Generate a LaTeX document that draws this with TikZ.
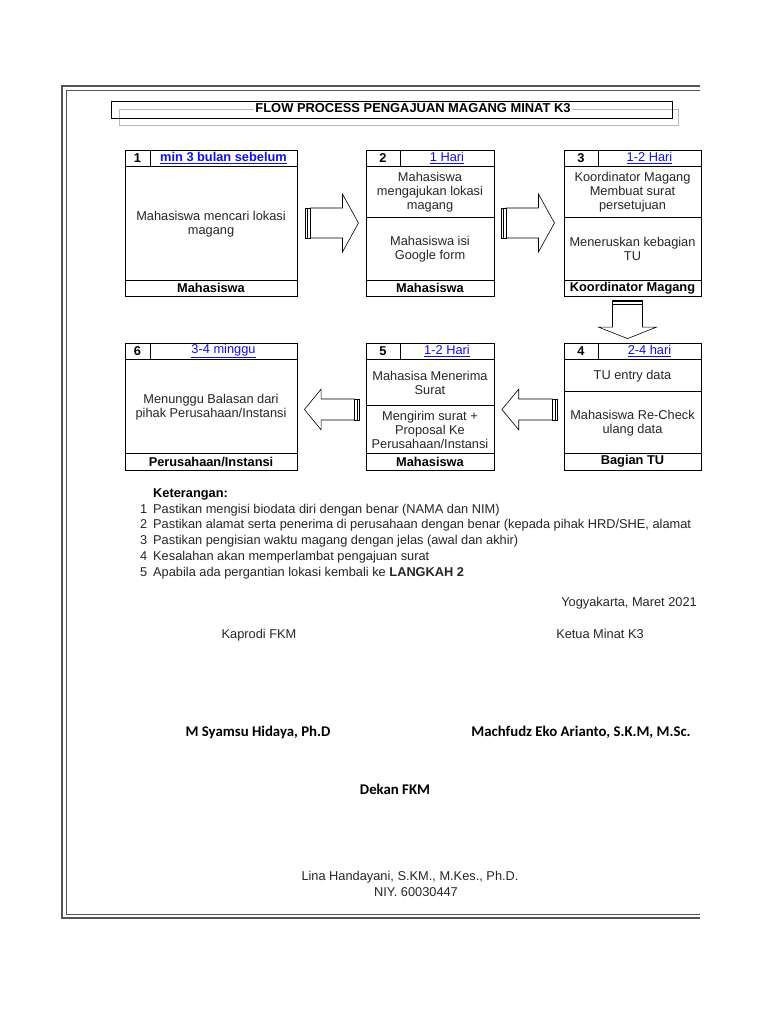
\documentclass[tikz,border=0pt]{standalone}
\usepackage{fontspec}
\setmainfont{Liberation Sans}
\newfontfamily\calibri{Carlito}
\usepackage{xcolor}
\definecolor{linkblue}{RGB}{15,15,230}
\definecolor{framegray}{RGB}{85,85,85}

\begin{document}
\begin{tikzpicture}[x=1pt,y=-1pt,
    txt/.style={align=center,font=\fontsize{12.8}{14}\selectfont,text=black!85,inner sep=0pt},
    num/.style={font=\fontsize{12.8}{14}\selectfont\bfseries,inner sep=0pt},
    lnk/.style={font=\fontsize{12.8}{14}\selectfont,text=linkblue,inner sep=0pt},
    role/.style={font=\fontsize{12.8}{14}\selectfont\bfseries,inner sep=0pt},
    note/.style={anchor=base west,font=\fontsize{12.8}{14}\selectfont,text=black!85,inner sep=0pt},
    sign/.style={font=\fontsize{12.8}{14}\selectfont,text=black!85,inner sep=0pt},
    signame/.style={font=\fontsize{14.8}{16}\selectfont\calibri\bfseries,inner sep=0pt},
    cell/.style={draw,line width=0.9pt,inner sep=0pt},
    fatarrow/.pic={
      \draw[line width=0.6pt,fill=white] (5,-15) -- (37,-15) -- (37,-29) -- (53,0) -- (37,29) -- (37,15) -- (5,15) -- cycle;
      \draw[line width=0.7pt,fill=white] (0,-15) rectangle (5,15);
      \draw[line width=0.9pt] (1.6,-15) -- (1.6,15);
    }]
  \useasboundingbox[fill=white] (0,0) rectangle (768,1024);

  % frame
  \draw[framegray,line width=1.6pt] (700,86) -- (62,86) -- (62,918) -- (700,918);
  \draw[framegray,line width=0.9pt] (700,90) -- (66,90) -- (66,914) -- (700,914);

  % title
  \draw[gray!55,line width=1pt] (119,110) rectangle (678,126);
  \node[fill=white,inner sep=1pt,anchor=base,font=\fontsize{12.9}{14}\selectfont\bfseries] (title) at (413,113) {FLOW PROCESS PENGAJUAN MAGANG MINAT K3};
  \draw[line width=1pt] (111,102) rectangle (672,119);

  % boxes
  \node[cell,minimum width=172pt,minimum height=146pt] (box1) at (211,223) {};
  \node[cell,minimum width=128pt,minimum height=146pt] (box2) at (430,223) {};
  \node[cell,minimum width=137pt,minimum height=146pt] (box3) at (632.5,223) {};
  \node[cell,minimum width=172pt,minimum height=127pt] (box6) at (211,406.5) {};
  \node[cell,minimum width=128pt,minimum height=127pt] (box5) at (430,406.5) {};
  \node[cell,minimum width=137pt,minimum height=127pt] (box4) at (632.5,406.5) {};
  \draw[line width=0.9pt] (125,166) -- (297,166) (150,150) -- (150,166) (125,280) -- (297,280);
  \draw[line width=0.9pt] (366,166) -- (494,166) (400,150) -- (400,166) (366,217) -- (494,217) (366,280) -- (494,280);
  \draw[line width=0.9pt] (564,166) -- (701,166) (598,150) -- (598,166) (564,217) -- (701,217) (564,280) -- (701,280);
  \draw[line width=0.9pt] (125,359) -- (297,359) (150,343) -- (150,359) (125,453) -- (297,453);
  \draw[line width=0.9pt] (366,359) -- (494,359) (400,343) -- (400,359) (366,405) -- (494,405) (366,453) -- (494,453);
  \draw[line width=0.9pt] (564,359) -- (701,359) (598,343) -- (598,359) (564,391) -- (701,391) (564,453) -- (701,453);

  % step 1
  \node[num] (n1) at (137.5,158) {1};
  \node[lnk,font=\fontsize{12.8}{14}\selectfont\bfseries] (t1) at (223.5,158) {\underline{min 3 bulan sebelum}};
  \node[txt] (a1) at (211,224) {Mahasiswa mencari lokasi\\magang};
  \node[role] (r1) at (211,288) {Mahasiswa};
  % step 2
  \node[num] (n2) at (383,158) {2};
  \node[lnk] (t2) at (447,158) {\underline{1 Hari}};
  \node[txt] (a2) at (430,192) {Mahasiswa\\mengajukan lokasi\\magang};
  \node[txt] (b2) at (430,249) {Mahasiswa isi\\Google form};
  \node[role] (r2) at (430,288) {Mahasiswa};
  % step 3
  \node[num] (n3) at (581,158) {3};
  \node[lnk] (t3) at (649.5,158) {\underline{1-2 Hari}};
  \node[txt] (a3) at (632.5,192) {Koordinator Magang\\Membuat surat\\persetujuan};
  \node[txt] (b3) at (632.5,249) {Meneruskan kebagian\\TU};
  \node[role] (r3) at (632.5,288) {Koordinator Magang};
  % step 4
  \node[num] (n4) at (581,351) {4};
  \node[lnk] (t4) at (649.5,351) {\underline{2-4 hari}};
  \node[txt] (a4) at (632.5,376) {TU entry data};
  \node[txt] (b4) at (632.5,423) {Mahasiswa Re-Check\\ulang data};
  \node[role] (r4) at (632.5,461.5) {Bagian TU};
  % step 5
  \node[num] (n5) at (383,351) {5};
  \node[lnk] (t5) at (447,351) {\underline{1-2 Hari}};
  \node[txt] (a5) at (430,383) {Mahasisa Menerima\\Surat};
  \node[txt] (b5) at (430,430) {Mengirim surat +\\Proposal Ke\\Perusahaan/Instansi};
  \node[role] (r5) at (430,461.5) {Mahasiswa};
  % step 6
  \node[num] (n6) at (137.5,351) {6};
  \node[lnk] (t6) at (223.5,351) {\underline{3-4 minggu}};
  \node[txt] (a6) at (211,407) {Menunggu Balasan dari\\pihak Perusahaan/Instansi};
  \node[role] (r6) at (211,461.5) {Perusahaan/Instansi};

  % block arrows
  \pic at ([xshift=8pt]box1.east) {fatarrow};
  \pic at ([xshift=7pt]box2.east) {fatarrow};
  \pic[rotate=-90,xscale=0.72] at ([xshift=-5pt,yshift=-4pt]box3.south) {fatarrow};
  \pic[rotate=180,xscale=1.05,yscale=0.7] at ([xshift=-6pt,yshift=-3pt]box4.west) {fatarrow};
  \pic[rotate=180,xscale=1.04,yscale=0.7] at ([xshift=-6pt,yshift=-3pt]box5.west) {fatarrow};

  % notes
  \node[note,font=\fontsize{12.8}{14}\selectfont\bfseries,text=black] (ket) at (153,497) {Keterangan:};
  \node[note] (m1) at (140,513) {1};
  \node[note] (k1) at (153,513) {Pastikan mengisi biodata diri dengan benar (NAMA dan NIM)};
  \node[note] (m2) at (140,528) {2};
  \node[note] (k2) at (153,528) {Pastikan alamat serta penerima di perusahaan dengan benar (kepada pihak HRD/SHE, alamat};
  \node[note] (m3) at (140,544) {3};
  \node[note] (k3) at (153,544) {Pastikan pengisian waktu magang dengan jelas (awal dan akhir)};
  \node[note] (m4) at (140,560) {4};
  \node[note] (k4) at (153,560) {Kesalahan akan memperlambat pengajuan surat};
  \node[note] (m5) at (140,576) {5};
  \node[note] (k5) at (153,576) {Apabila ada pergantian lokasi kembali ke \textbf{LANGKAH 2}};

  % signatures
  \node[sign,anchor=base east] (date) at (697,606) {Yogyakarta, Maret 2021};
  \node[sign,anchor=base] (kaprodi) at (259,638) {Kaprodi FKM};
  \node[sign,anchor=base] (ketua) at (600,638) {Ketua Minat K3};
  \node[signame,anchor=base] (nkaprodi) at (258,736) {M Syamsu Hidaya, Ph.D};
  \node[signame,anchor=base] (nketua) at (581,736) {Machfudz Eko Arianto, S.K.M, M.Sc.};
  \node[signame,anchor=base] (dekan) at (395,794) {Dekan FKM};
  \node[sign,anchor=base] (ndekan) at (410,880) {Lina Handayani, S.KM., M.Kes., Ph.D.};
  \node[sign,anchor=base] (niy) at (416,896) {NIY. 60030447};
\end{tikzpicture}
\end{document}
